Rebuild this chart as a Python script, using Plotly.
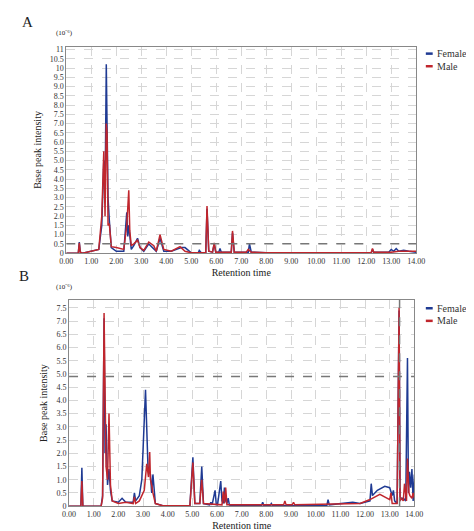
import plotly.graph_objects as go

# Panel A
a_t_f = [0,0.48,0.52,0.56,0.65,1.3,1.42,1.5,1.55,1.6,1.63,1.67,1.72,1.8,2.0,2.3,2.42,2.46,2.5,2.54,2.6,2.7,2.85,2.95,3.1,3.3,3.5,3.6,3.75,3.9,4.2,4.6,4.75,5.0,5.28,5.32,5.4,5.58,5.63,5.7,5.85,5.92,5.98,6.1,6.15,6.2,6.6,6.65,6.72,7.28,7.33,7.4,8,12.2,12.25,12.3,12.9,13.0,13.1,13.2,13.3,13.5,13.7,14]
a_f   = [0,0,0.6,0.05,0,0.2,1.5,5.0,3.0,10.2,7.0,3.0,1.8,0.3,0.1,0.1,2.2,0.9,1.5,0.8,0.2,0.4,0.8,0.3,0.1,0.5,0.2,0.1,0.8,0.1,0.1,0.3,0.3,0.02,0.02,0.15,0.02,0.02,2.4,0.1,0.05,0.5,0.05,0.05,0.25,0.05,0.05,1.1,0.05,0.05,0.5,0.05,0.02,0.02,0.2,0.05,0.05,0.2,0.1,0.25,0.1,0.15,0.1,0.05]
a_t_m = [0,0.48,0.52,0.56,0.65,1.3,1.42,1.5,1.55,1.6,1.63,1.67,1.72,1.8,2.0,2.3,2.42,2.46,2.5,2.54,2.6,2.7,2.85,2.95,3.1,3.3,3.5,3.6,3.75,3.9,4.2,4.55,4.75,5.0,5.58,5.63,5.7,5.85,5.92,5.98,6.6,6.65,6.72,7.2,7.28,7.4,8,12.2,12.25,12.3,13,13.3,13.6,14]
a_m   = [0,0,0.55,0.05,0,0.2,2.0,5.5,2.0,7.0,6.5,1.5,1.6,0.35,0.3,0.2,1.5,2.8,3.4,1.2,0.4,0.5,0.7,0.3,0.15,0.6,0.4,0.1,1.0,0.2,0.1,0.35,0.1,0.02,0.02,2.55,0.1,0.05,0.55,0.05,0.05,1.2,0.05,0.05,0.2,0.05,0.02,0.02,0.25,0.05,0.05,0.1,0.1,0.1]
a_ticks = [0,0.5,1,1.5,2,2.5,3,3.5,4,4.5,5,5.5,6,6.5,7,7.5,8,8.5,9,9.5,10,10.5,11]
a_threshold = 0.5

# Panel B
b_t_f = [0,0.48,0.52,0.56,1.3,1.36,1.42,1.46,1.5,1.56,1.62,1.68,1.75,2.0,2.15,2.3,2.6,2.65,2.7,2.85,2.95,3.05,3.1,3.2,3.3,3.35,3.4,3.5,3.8,4.9,5.02,5.1,5.3,5.38,5.45,5.7,5.75,5.8,5.92,5.97,6.02,6.15,6.2,6.25,6.3,6.35,6.4,6.45,6.5,6.55,7.8,7.85,7.9,8.15,8.2,8.25,10.45,10.5,10.55,11.5,11.8,12.2,12.25,12.3,12.5,12.8,13.0,13.1,13.15,13.2,13.3,13.38,13.42,13.46,13.55,13.65,13.72,13.76,13.8,13.85,13.9,13.95,14]
b_f   = [0,0,1.45,0,0,0.4,7.1,2.0,3.1,0.8,1.4,0.6,0.2,0.15,0.3,0.15,0.15,0.5,0.2,0.4,1.0,3.5,4.4,1.5,1.2,0.5,1.2,0.1,0.02,0.02,1.85,0.1,0.1,1.5,0.1,0.05,0.15,0.05,0.6,0.05,0.05,0.95,0.2,0.1,0.7,0.2,0.1,0.3,0.05,0.02,0.02,0.15,0.02,0.02,0.1,0.02,0.02,0.25,0.05,0.15,0.1,0.2,0.85,0.4,0.6,0.75,0.7,0.4,0.6,0.2,0.1,7.4,0.2,0.3,0.3,0.2,5.6,0.5,1.3,0.7,1.4,0.2,1.2]
b_t_m = [0,0.48,0.52,0.56,1.3,1.36,1.42,1.46,1.5,1.56,1.62,1.68,1.75,2.0,2.3,2.6,2.65,2.7,2.85,2.95,3.05,3.15,3.22,3.27,3.3,3.35,3.4,3.5,3.8,4.9,5.02,5.1,5.3,5.38,5.45,6.2,6.25,6.3,6.35,6.4,8.7,8.75,8.8,9.05,9.1,9.15,11.5,11.8,12.2,12.6,13.0,13.05,13.1,13.3,13.38,13.42,13.46,13.55,13.6,13.68,13.72,13.78,13.82,13.9,13.95,14]
b_m   = [0,0,0.95,0,0,0.3,7.3,4.0,1.5,1.0,3.5,0.8,0.2,0.1,0.15,0.1,0.35,0.1,0.2,0.4,0.6,1.6,1.1,2.05,1.0,0.8,0.5,0.1,0.02,0.02,1.65,0.1,0.1,1.0,0.1,0.05,0.55,0.1,0.7,0.05,0.05,0.2,0.05,0.05,0.15,0.05,0.1,0.1,0.25,0.45,0.25,0.5,0.1,0.1,7.5,0.2,0.3,0.2,0.85,0.2,1.8,0.5,0.4,0.3,0.5,0.3]
b_ticks = [0,0.5,1,1.5,2,2.5,3,3.5,4,4.5,5,5.5,6,6.5,7,7.5]
b_threshold = 4.9
b_vline = 13.4

x_ticks = list(range(0, 15))
series_names = ["Female", "Male"]
BLUE = "#1f3a93"
RED = "#c0262d"
FONT = "Liberation Serif"

def fmt(v):
    if v == 0:
        return "0"
    if v >= 10 and v == int(v):
        return str(int(v))
    return f"{v:.1f}"

fig = go.Figure()
fig.add_trace(go.Scatter(x=a_t_f, y=a_f, mode="lines", name=series_names[0], line=dict(color=BLUE, width=1.5), xaxis="x", yaxis="y"))
fig.add_trace(go.Scatter(x=a_t_m, y=a_m, mode="lines", name=series_names[1], line=dict(color=RED, width=1.5), xaxis="x", yaxis="y"))
fig.add_trace(go.Scatter(x=b_t_f, y=b_f, mode="lines", name=series_names[0], line=dict(color=BLUE, width=1.5), xaxis="x2", yaxis="y2"))
fig.add_trace(go.Scatter(x=b_t_m, y=b_m, mode="lines", name=series_names[1], line=dict(color=RED, width=1.5), xaxis="x2", yaxis="y2"))

dash_line = dict(color="#777", width=1.5, dash="dash")
fig.add_shape(type="line", xref="x", yref="y", x0=0, x1=14, y0=a_threshold, y1=a_threshold, line=dash_line)
fig.add_shape(type="line", xref="x2", yref="y2", x0=0, x1=14, y0=b_threshold, y1=b_threshold, line=dash_line)
fig.add_shape(type="line", xref="x2", yref="y2", x0=b_vline, x1=b_vline, y0=0, y1=7.8, line=dash_line)

axcommon = dict(showline=True, linecolor="#888", linewidth=1, mirror=True, showgrid=True,
                gridcolor="#d6d6d6", griddash="dash", zeroline=False, ticks="",
                tickfont=dict(family=FONT, size=8, color="#333"))
xt = [f"{v:.2f}" for v in x_ticks]

def legend_ann(y):
    anns = []
    for i, (n, c) in enumerate(zip(series_names, [BLUE, RED])):
        yy = y - i * 0.024
        fig.add_shape(type="line", xref="paper", yref="paper", x0=0.897, x1=0.912, y0=yy, y1=yy,
                      line=dict(color=c, width=2.5))
        anns.append(dict(text=n, x=0.918, y=yy, xref="paper", yref="paper", showarrow=False,
                         xanchor="left", yanchor="middle", font=dict(size=10, color="#333")))
    return anns

fig.update_layout(
    width=474, height=531, margin=dict(l=0, r=0, t=0, b=0),
    paper_bgcolor="white", plot_bgcolor="white", showlegend=False,
    font=dict(family=FONT, color="#222"),
    xaxis=dict(domain=[0.112, 0.876], anchor="y", range=[0, 14], tickvals=x_ticks, ticktext=xt,
               title=dict(text="Retention time", font=dict(size=10), standoff=4), **axcommon),
    yaxis=dict(domain=[0.535, 0.928], anchor="x", range=[0, 11.15], tickvals=a_ticks, ticktext=[fmt(v) for v in a_ticks],
               title=dict(text="Base peak intensity", font=dict(size=10), standoff=6), **axcommon),
    xaxis2=dict(domain=[0.118, 0.872], anchor="y2", range=[0, 14], tickvals=x_ticks, ticktext=xt,
                title=dict(text="Retention time", font=dict(size=10), standoff=4), **axcommon),
    yaxis2=dict(domain=[0.053, 0.446], anchor="x2", range=[0, 7.8], tickvals=b_ticks, ticktext=[fmt(v) for v in b_ticks],
                title=dict(text="Base peak intensity", font=dict(size=10), standoff=6), **axcommon),
    annotations=[
        dict(text="A", x=0.012, y=0.995, xref="paper", yref="paper", showarrow=False, xanchor="left", yanchor="top", font=dict(size=15)),
        dict(text="B", x=0.005, y=0.51, xref="paper", yref="paper", showarrow=False, xanchor="left", yanchor="top", font=dict(size=15)),
        dict(text="(10⁻⁶)", x=0.085, y=0.955, xref="paper", yref="paper", showarrow=False, xanchor="left", yanchor="middle", font=dict(size=7)),
        dict(text="(10⁻⁶)", x=0.085, y=0.47, xref="paper", yref="paper", showarrow=False, xanchor="left", yanchor="middle", font=dict(size=7)),
    ] + legend_ann(0.915) + legend_ann(0.43),
)
fig.write_html("out.html")
